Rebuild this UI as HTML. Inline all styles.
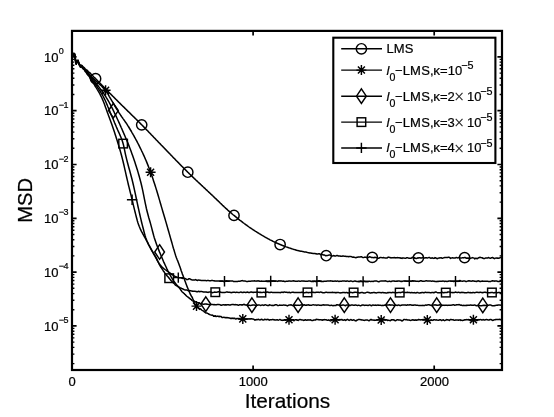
<!DOCTYPE html>
<html><head><meta charset="utf-8">
<style>
html,body{margin:0;padding:0;background:#fff;}
svg{display:block;}
text{font-family:"Liberation Sans",sans-serif;fill:#000;stroke:#000;stroke-width:0.22px;}
</style></head><body>
<svg width="554" height="417" viewBox="0 0 554 417">
<rect width="554" height="417" fill="#fff"/>

<g fill="none" stroke="#000" stroke-width="1.5" stroke-linejoin="round">
<polyline points="72.6,56.3 73.2,54.3 73.8,53.6 74.4,53.4 75.0,56.2 75.6,60.7 76.2,63.8 76.8,61.5 77.4,60.9 78.0,60.7 78.6,62.4 79.2,63.7 79.8,64.7 80.4,65.4 81.0,65.3 81.6,65.2 82.2,65.9 82.8,66.5 83.4,67.2 84.0,67.5 84.6,68.1 85.2,69.0 85.8,69.5 86.4,69.8 87.0,70.1 87.6,70.7 88.2,71.5 88.8,72.1 89.4,72.4 90.0,72.9 90.6,73.6 91.2,74.2 91.8,75.0 92.4,75.5 93.0,76.0 93.6,76.7 94.2,77.3 94.8,77.8 95.4,78.5 96.0,79.1 96.6,79.7 97.2,80.3 97.8,81.0 98.4,81.6 99.0,82.2 99.6,82.8 100.2,83.4 100.8,84.0 101.4,84.6 102.0,85.2 102.6,85.9 103.2,86.5 103.8,87.1 104.4,87.7 105.0,88.3 105.6,88.9 106.2,89.5 106.8,90.1 107.4,90.7 108.0,91.3 108.6,91.9 109.2,92.6 109.8,93.2 110.4,93.8 111.0,94.4 111.6,95.0 112.2,95.6 112.8,96.2 113.4,96.8 114.0,97.4 114.6,98.0 115.2,98.6 115.8,99.2 116.4,99.8 117.0,100.4 117.6,101.0 118.2,101.6 118.8,102.2 119.4,102.8 120.0,103.4 120.6,104.0 121.2,104.6 121.8,105.2 122.4,105.8 123.0,106.4 123.6,106.9 124.2,107.5 124.8,108.1 125.4,108.7 126.0,109.3 126.6,109.9 127.2,110.5 127.8,111.1 128.4,111.7 129.0,112.2 129.6,112.8 130.2,113.4 130.8,114.0 131.4,114.6 132.0,115.2 132.6,115.8 133.2,116.4 133.8,116.9 134.4,117.5 135.0,118.1 135.6,118.7 136.2,119.3 136.8,119.9 137.4,120.5 138.0,121.1 138.6,121.7 139.2,122.3 139.8,122.9 140.4,123.5 141.0,124.1 141.6,124.7 142.2,125.3 142.8,125.9 143.4,126.5 144.0,127.1 144.6,127.7 145.2,128.4 145.8,129.0 146.4,129.6 147.0,130.2 147.6,130.8 148.2,131.4 148.8,132.1 149.4,132.7 150.0,133.3 150.6,133.9 151.2,134.6 151.8,135.2 152.4,135.8 153.0,136.4 153.6,137.1 154.2,137.7 154.8,138.3 155.4,138.9 156.0,139.6 156.6,140.2 157.2,140.8 157.8,141.4 158.4,142.1 159.0,142.7 159.6,143.3 160.2,143.9 160.8,144.5 161.4,145.2 162.0,145.8 162.6,146.4 163.2,147.0 163.8,147.6 164.4,148.3 165.0,148.9 165.6,149.5 166.2,150.1 166.8,150.7 167.4,151.4 168.0,152.0 168.6,152.6 169.2,153.2 169.8,153.8 170.4,154.5 171.0,155.1 171.6,155.7 172.2,156.3 172.8,157.0 173.4,157.6 174.0,158.2 174.6,158.8 175.2,159.4 175.8,160.1 176.4,160.7 177.0,161.3 177.6,161.9 178.2,162.5 178.8,163.1 179.4,163.8 180.0,164.4 180.6,165.0 181.2,165.6 181.8,166.2 182.4,166.8 183.0,167.4 183.6,168.0 184.2,168.6 184.8,169.2 185.4,169.8 186.0,170.4 186.6,171.0 187.2,171.6 187.8,172.2 188.4,172.8 189.0,173.4 189.6,174.0 190.2,174.5 190.8,175.1 191.4,175.7 192.0,176.3 192.6,176.9 193.2,177.4 193.8,178.0 194.4,178.6 195.0,179.1 195.6,179.7 196.2,180.3 196.8,180.8 197.4,181.4 198.0,182.0 198.6,182.5 199.2,183.1 199.8,183.7 200.4,184.2 201.0,184.8 201.6,185.4 202.2,185.9 202.8,186.5 203.4,187.0 204.0,187.6 204.6,188.2 205.2,188.7 205.8,189.3 206.4,189.8 207.0,190.4 207.6,191.0 208.2,191.5 208.8,192.1 209.4,192.6 210.0,193.2 210.6,193.8 211.2,194.3 211.8,194.9 212.4,195.5 213.0,196.0 213.6,196.6 214.2,197.2 214.8,197.8 215.4,198.3 216.0,198.9 216.6,199.5 217.2,200.1 217.8,200.7 218.4,201.2 219.0,201.8 219.6,202.4 220.2,203.0 220.8,203.5 221.4,204.1 222.0,204.7 222.6,205.3 223.2,205.8 223.8,206.4 224.4,207.0 225.0,207.5 225.6,208.1 226.2,208.6 226.8,209.2 227.4,209.7 228.0,210.3 228.6,210.8 229.2,211.3 229.8,211.9 230.4,212.4 231.0,212.9 231.6,213.4 232.2,214.0 232.8,214.5 233.4,215.0 234.0,215.4 234.6,215.9 235.2,216.4 235.8,216.9 236.4,217.4 237.0,217.9 237.6,218.4 238.2,218.8 238.8,219.3 239.4,219.8 240.0,220.3 240.6,220.7 241.2,221.2 241.8,221.6 242.4,222.1 243.0,222.6 243.6,223.0 244.2,223.5 244.8,223.9 245.4,224.4 246.0,224.8 246.6,225.2 247.2,225.7 247.8,226.1 248.4,226.5 249.0,227.0 249.6,227.4 250.2,227.8 250.8,228.2 251.4,228.6 252.0,229.0 252.6,229.4 253.2,229.8 253.8,230.2 254.4,230.6 255.0,231.0 255.6,231.4 256.2,231.7 256.8,232.1 257.4,232.5 258.0,232.8 258.6,233.2 259.2,233.6 259.8,233.9 260.4,234.3 261.0,234.7 261.6,235.0 262.2,235.4 262.8,235.7 263.4,236.1 264.0,236.4 264.6,236.8 265.2,237.1 265.8,237.5 266.4,237.8 267.0,238.1 267.6,238.5 268.2,238.8 268.8,239.1 269.4,239.4 270.0,239.8 270.6,240.1 271.2,240.4 271.8,240.7 272.4,241.0 273.0,241.3 273.6,241.6 274.2,241.9 274.8,242.2 275.4,242.5 276.0,242.7 276.6,243.0 277.2,243.3 277.8,243.5 278.4,243.8 279.0,244.0 279.6,244.3 280.2,244.5 280.8,244.8 281.4,245.0 282.0,245.3 282.6,245.5 283.2,245.7 283.8,246.0 284.4,246.2 285.0,246.4 285.6,246.6 286.2,246.9 286.8,247.1 287.4,247.3 288.0,247.5 288.6,247.7 289.2,247.9 289.8,248.1 290.4,248.3 291.0,248.5 291.6,248.7 292.2,248.9 292.8,249.1 293.4,249.3 294.0,249.4 294.6,249.6 295.2,249.8 295.8,250.0 296.4,250.2 297.0,250.4 297.6,250.5 298.2,250.6 298.8,250.8 299.4,251.0 300.0,251.1 300.6,251.2 301.2,251.2 301.8,251.3 302.4,251.4 303.0,251.6 303.6,251.7 304.2,251.9 304.8,251.9 305.4,252.0 306.0,252.1 306.6,252.2 307.2,252.4 307.8,252.6 308.4,252.8 309.0,252.8 309.6,252.9 310.2,253.0 310.8,253.0 311.4,253.2 312.0,253.2 312.6,253.4 313.2,253.5 313.8,253.6 314.4,253.5 315.0,253.5 315.6,253.7 316.2,253.8 316.8,254.0 317.4,254.0 318.0,253.9 318.6,253.8 319.2,253.7 319.8,254.0 320.4,254.3 321.0,254.7 321.6,254.6 322.2,254.5 322.8,254.7 323.4,255.0 324.0,255.1 324.6,255.1 325.2,255.5 325.8,255.7 326.4,255.7 327.0,255.4 327.6,255.4 328.2,255.3 328.8,255.1 329.4,255.1 330.0,255.1 330.6,255.3 331.2,255.4 331.8,255.9 332.4,255.9 333.0,255.9 333.6,255.5 334.2,255.8 334.8,256.0 335.4,256.0 336.0,255.9 336.6,255.5 337.2,255.5 337.8,255.7 338.4,256.0 339.0,256.1 339.6,256.0 340.2,256.0 340.8,256.3 341.4,256.3 342.0,256.3 342.6,256.0 343.2,255.9 343.8,256.2 344.4,256.2 345.0,256.4 345.6,256.2 346.2,256.5 346.8,256.5 347.4,256.5 348.0,256.6 348.6,256.7 349.2,256.5 349.8,256.5 350.4,256.4 351.0,256.6 351.6,256.7 352.2,257.0 352.8,257.2 353.4,257.1 354.0,257.2 354.6,257.3 355.2,257.6 355.8,257.7 356.4,257.5 357.0,257.3 357.6,257.2 358.2,257.0 358.8,257.1 359.4,256.9 360.0,257.1 360.6,256.8 361.2,256.7 361.8,256.8 362.4,257.3 363.0,257.6 363.6,257.6 364.2,257.4 364.8,257.1 365.4,257.2 366.0,257.2 366.6,257.5 367.2,257.7 367.8,257.8 368.4,257.4 369.0,257.0 369.6,256.8 370.2,256.9 370.8,257.2 371.4,257.5 372.0,257.5 372.6,257.4 373.2,257.6 373.8,257.7 374.4,257.5 375.0,257.3 375.6,257.4 376.2,257.6 376.8,257.9 377.4,258.1 378.0,258.2 378.6,258.2 379.2,258.1 379.8,257.7 380.4,257.4 381.0,257.4 381.6,257.6 382.2,257.8 382.8,257.7 383.4,257.6 384.0,257.7 384.6,257.9 385.2,258.1 385.8,258.0 386.4,258.0 387.0,258.1 387.6,257.5 388.2,257.3 388.8,257.1 389.4,257.4 390.0,257.5 390.6,257.8 391.2,257.9 391.8,257.7 392.4,257.8 393.0,257.8 393.6,257.8 394.2,257.5 394.8,257.7 395.4,257.8 396.0,257.9 396.6,257.7 397.2,257.7 397.8,257.6 398.4,257.8 399.0,257.8 399.6,257.9 400.2,257.7 400.8,258.3 401.4,258.1 402.0,258.4 402.6,257.9 403.2,258.0 403.8,257.9 404.4,258.1 405.0,258.3 405.6,258.2 406.2,258.0 406.8,257.7 407.4,257.7 408.0,257.9 408.6,258.2 409.2,258.2 409.8,258.3 410.4,258.3 411.0,258.3 411.6,257.9 412.2,257.4 412.8,257.2 413.4,257.7 414.0,257.7 414.6,258.2 415.2,258.0 415.8,258.4 416.4,258.4 417.0,258.3 417.6,258.0 418.2,257.8 418.8,257.9 419.4,257.8 420.0,257.8 420.6,258.0 421.2,257.9 421.8,257.9 422.4,257.5 423.0,257.8 423.6,257.9 424.2,258.0 424.8,258.1 425.4,257.7 426.0,257.9 426.6,257.7 427.2,258.1 427.8,257.9 428.4,257.6 429.0,257.4 429.6,257.4 430.2,258.1 430.8,258.2 431.4,258.2 432.0,257.8 432.6,258.0 433.2,258.2 433.8,258.4 434.4,258.2 435.0,257.6 435.6,257.8 436.2,258.2 436.8,258.6 437.4,258.7 438.0,258.3 438.6,258.1 439.2,258.1 439.8,257.8 440.4,257.9 441.0,257.7 441.6,258.1 442.2,258.2 442.8,258.2 443.4,257.9 444.0,257.7 444.6,257.6 445.2,257.6 445.8,257.6 446.4,257.4 447.0,257.4 447.6,257.4 448.2,257.3 448.8,257.2 449.4,257.5 450.0,257.8 450.6,258.4 451.2,258.1 451.8,257.9 452.4,257.7 453.0,258.0 453.6,258.0 454.2,258.1 454.8,258.1 455.4,258.0 456.0,257.5 456.6,257.6 457.2,257.9 457.8,257.8 458.4,257.6 459.0,257.7 459.6,258.0 460.2,258.0 460.8,258.1 461.4,258.1 462.0,257.9 462.6,257.7 463.2,257.7 463.8,257.9 464.4,257.6 465.0,257.5 465.6,257.7 466.2,258.3 466.8,258.0 467.4,258.3 468.0,257.9 468.6,258.4 469.2,258.2 469.8,258.5 470.4,258.4 471.0,258.0 471.6,257.9 472.2,257.8 472.8,257.6 473.4,257.9 474.0,258.1 474.6,258.9 475.2,258.2 475.8,258.4 476.4,258.3 477.0,258.7 477.6,258.5 478.2,258.0 478.8,257.8 479.4,257.4 480.0,257.3 480.6,257.4 481.2,257.6 481.8,257.8 482.4,257.8 483.0,258.3 483.6,258.5 484.2,258.5 484.8,258.4 485.4,258.1 486.0,258.0 486.6,258.0 487.2,257.9 487.8,257.9 488.4,257.5 489.0,257.8 489.6,258.1 490.2,258.2 490.8,258.2 491.4,257.8 492.0,257.7 492.6,257.5 493.2,257.8 493.8,258.4 494.4,258.7 495.0,258.3 495.6,258.1 496.2,257.9 496.8,258.2 497.4,258.1 498.0,258.2 498.6,258.2 499.2,258.0 499.8,257.9 500.4,257.6 501.0,257.6 501.6,257.4"/>
<polyline points="72.6,55.0 73.2,53.3 73.8,53.9 74.4,53.8 75.0,56.1 75.6,61.0 76.2,63.9 76.8,62.3 77.4,62.1 78.0,61.5 78.6,63.5 79.2,64.9 79.8,65.2 80.4,65.6 81.0,65.8 81.6,65.6 82.2,66.3 82.8,67.9 83.4,68.7 84.0,68.4 84.6,68.9 85.2,69.8 85.8,70.3 86.4,70.7 87.0,71.3 87.6,71.9 88.2,72.6 88.8,73.4 89.4,74.5 90.0,75.3 90.6,75.9 91.2,76.5 91.8,77.0 92.4,77.5 93.0,78.1 93.6,78.7 94.2,79.3 94.8,80.1 95.4,80.7 96.0,81.2 96.6,81.7 97.2,82.2 97.8,82.7 98.4,83.2 99.0,83.8 99.6,84.3 100.2,84.8 100.8,85.3 101.4,85.9 102.0,86.4 102.6,87.0 103.2,87.6 103.8,88.3 104.4,88.9 105.0,89.6 105.6,90.3 106.2,91.1 106.8,92.0 107.4,93.0 108.0,94.1 108.6,95.2 109.2,96.3 109.8,97.3 110.4,98.3 111.0,99.3 111.6,100.4 112.2,101.4 112.8,102.4 113.4,103.4 114.0,104.4 114.6,105.5 115.2,106.5 115.8,107.5 116.4,108.5 117.0,109.5 117.6,110.4 118.2,111.4 118.8,112.4 119.4,113.3 120.0,114.2 120.6,115.1 121.2,116.0 121.8,116.9 122.4,117.7 123.0,118.6 123.6,119.4 124.2,120.3 124.8,121.1 125.4,122.0 126.0,122.8 126.6,123.7 127.2,124.6 127.8,125.6 128.4,126.5 129.0,127.5 129.6,128.5 130.2,129.5 130.8,130.5 131.4,131.5 132.0,132.6 132.6,133.6 133.2,134.7 133.8,135.7 134.4,136.8 135.0,137.9 135.6,139.0 136.2,140.1 136.8,141.2 137.4,142.4 138.0,143.5 138.6,144.7 139.2,145.9 139.8,147.1 140.4,148.3 141.0,149.5 141.6,150.8 142.2,152.0 142.8,153.3 143.4,154.6 144.0,155.9 144.6,157.2 145.2,158.6 145.8,160.0 146.4,161.4 147.0,162.9 147.6,164.4 148.2,165.9 148.8,167.5 149.4,169.0 150.0,170.6 150.6,172.2 151.2,173.9 151.8,175.6 152.4,177.3 153.0,179.1 153.6,180.9 154.2,182.7 154.8,184.6 155.4,186.4 156.0,188.4 156.6,190.3 157.2,192.3 157.8,194.3 158.4,196.3 159.0,198.4 159.6,200.4 160.2,202.5 160.8,204.5 161.4,206.6 162.0,208.6 162.6,210.7 163.2,212.7 163.8,214.7 164.4,216.8 165.0,218.8 165.6,220.9 166.2,222.9 166.8,225.0 167.4,227.1 168.0,229.2 168.6,231.3 169.2,233.4 169.8,235.5 170.4,237.6 171.0,239.7 171.6,241.8 172.2,243.9 172.8,246.1 173.4,248.2 174.0,250.1 174.6,252.1 175.2,254.1 175.8,256.0 176.4,257.7 177.0,259.2 177.6,260.6 178.2,262.2 178.8,263.7 179.4,265.4 180.0,267.1 180.6,268.8 181.2,270.8 181.8,272.3 182.4,274.1 183.0,275.5 183.6,277.3 184.2,278.8 184.8,280.5 185.4,282.1 186.0,283.7 186.6,285.2 187.2,286.9 187.8,288.3 188.4,289.8 189.0,291.1 189.6,292.5 190.2,294.0 190.8,295.0 191.4,296.2 192.0,296.9 192.6,298.4 193.2,299.8 193.8,301.8 194.4,303.1 195.0,304.6 195.6,305.2 196.2,305.9 196.8,306.4 197.4,307.0 198.0,307.7 198.6,308.2 199.2,308.5 199.8,308.6 200.4,308.9 201.0,309.3 201.6,310.0 202.2,310.4 202.8,310.7 203.4,310.9 204.0,311.5 204.6,312.1 205.2,312.5 205.8,313.0 206.4,312.9 207.0,313.0 207.6,313.4 208.2,313.7 208.8,314.2 209.4,314.3 210.0,314.7 210.6,314.9 211.2,315.1 211.8,315.2 212.4,315.1 213.0,315.4 213.6,316.2 214.2,316.1 214.8,316.2 215.4,315.7 216.0,316.4 216.6,316.4 217.2,316.1 217.8,316.3 218.4,316.2 219.0,316.8 219.6,316.3 220.2,316.4 220.8,316.4 221.4,316.9 222.0,317.4 222.6,317.4 223.2,317.4 223.8,317.2 224.4,317.5 225.0,317.5 225.6,317.7 226.2,317.6 226.8,317.7 227.4,317.6 228.0,317.8 228.6,317.8 229.2,318.1 229.8,318.1 230.4,318.5 231.0,318.2 231.6,318.6 232.2,318.1 232.8,318.5 233.4,318.3 234.0,318.5 234.6,318.2 235.2,318.7 235.8,319.1 236.4,318.9 237.0,318.4 237.6,318.6 238.2,318.6 238.8,318.7 239.4,318.4 240.0,319.2 240.6,319.2 241.2,319.5 241.8,319.0 242.4,318.9 243.0,318.9 243.6,319.2 244.2,319.0 244.8,318.9 245.4,319.0 246.0,319.2 246.6,319.1 247.2,319.1 247.8,319.1 248.4,319.0 249.0,318.8 249.6,318.9 250.2,318.8 250.8,318.9 251.4,318.7 252.0,319.0 252.6,319.0 253.2,319.1 253.8,319.3 254.4,319.7 255.0,320.2 255.6,319.8 256.2,319.7 256.8,319.5 257.4,319.7 258.0,319.4 258.6,319.3 259.2,319.7 259.8,319.9 260.4,319.8 261.0,319.4 261.6,319.3 262.2,319.5 262.8,320.0 263.4,319.9 264.0,319.8 264.6,319.3 265.2,319.4 265.8,319.5 266.4,319.7 267.0,319.6 267.6,319.3 268.2,319.5 268.8,319.8 269.4,320.2 270.0,319.8 270.6,319.7 271.2,319.7 271.8,319.7 272.4,319.6 273.0,319.5 273.6,319.8 274.2,319.8 274.8,320.0 275.4,320.0 276.0,320.1 276.6,319.8 277.2,319.7 277.8,320.0 278.4,320.2 279.0,319.9 279.6,319.5 280.2,319.6 280.8,319.9 281.4,320.3 282.0,320.1 282.6,320.4 283.2,320.1 283.8,320.2 284.4,319.8 285.0,320.2 285.6,320.2 286.2,320.1 286.8,320.0 287.4,319.7 288.0,319.9 288.6,319.9 289.2,319.7 289.8,319.6 290.4,319.7 291.0,320.1 291.6,320.2 292.2,319.7 292.8,320.0 293.4,320.4 294.0,320.8 294.6,320.1 295.2,319.7 295.8,319.7 296.4,319.7 297.0,320.2 297.6,320.1 298.2,320.4 298.8,319.9 299.4,319.7 300.0,319.4 300.6,319.7 301.2,319.8 301.8,319.9 302.4,319.9 303.0,320.0 303.6,320.4 304.2,320.3 304.8,320.0 305.4,319.7 306.0,320.1 306.6,320.2 307.2,320.2 307.8,319.8 308.4,320.0 309.0,320.0 309.6,319.9 310.2,319.8 310.8,320.0 311.4,320.3 312.0,320.6 312.6,320.6 313.2,320.3 313.8,320.0 314.4,320.0 315.0,319.9 315.6,319.9 316.2,319.3 316.8,319.5 317.4,319.4 318.0,319.5 318.6,319.7 319.2,319.7 319.8,319.9 320.4,319.7 321.0,319.7 321.6,320.1 322.2,320.0 322.8,320.2 323.4,319.7 324.0,319.7 324.6,319.6 325.2,319.8 325.8,319.7 326.4,319.8 327.0,320.2 327.6,320.3 328.2,320.2 328.8,319.8 329.4,320.4 330.0,320.7 330.6,320.9 331.2,320.6 331.8,320.1 332.4,319.9 333.0,319.8 333.6,320.0 334.2,319.9 334.8,319.7 335.4,319.8 336.0,320.0 336.6,319.7 337.2,319.6 337.8,319.8 338.4,320.1 339.0,320.2 339.6,319.6 340.2,319.9 340.8,319.6 341.4,319.7 342.0,319.4 342.6,320.1 343.2,320.3 343.8,320.1 344.4,319.7 345.0,319.9 345.6,320.5 346.2,320.1 346.8,319.7 347.4,319.3 348.0,319.7 348.6,320.1 349.2,320.4 349.8,320.0 350.4,319.7 351.0,319.5 351.6,320.0 352.2,320.2 352.8,320.2 353.4,319.8 354.0,319.9 354.6,320.1 355.2,320.9 355.8,320.7 356.4,320.8 357.0,320.0 357.6,320.0 358.2,319.5 358.8,319.6 359.4,319.6 360.0,319.6 360.6,319.7 361.2,319.8 361.8,320.0 362.4,320.0 363.0,320.1 363.6,320.3 364.2,320.3 364.8,320.4 365.4,320.1 366.0,320.0 366.6,320.1 367.2,319.9 367.8,320.2 368.4,320.4 369.0,320.8 369.6,320.4 370.2,319.8 370.8,319.5 371.4,319.6 372.0,320.1 372.6,320.1 373.2,320.1 373.8,320.2 374.4,320.1 375.0,320.4 375.6,320.2 376.2,320.1 376.8,320.0 377.4,319.7 378.0,319.7 378.6,319.3 379.2,319.1 379.8,319.4 380.4,319.7 381.0,320.0 381.6,319.7 382.2,319.8 382.8,319.6 383.4,319.5 384.0,319.3 384.6,319.4 385.2,319.8 385.8,319.9 386.4,319.8 387.0,319.9 387.6,320.5 388.2,320.3 388.8,320.3 389.4,320.4 390.0,320.6 390.6,320.7 391.2,319.8 391.8,320.0 392.4,319.7 393.0,319.9 393.6,319.8 394.2,320.0 394.8,320.6 395.4,320.7 396.0,320.5 396.6,320.1 397.2,319.7 397.8,319.7 398.4,320.0 399.0,320.0 399.6,320.0 400.2,320.1 400.8,320.2 401.4,320.7 402.0,321.0 402.6,320.7 403.2,320.1 403.8,319.4 404.4,319.4 405.0,319.6 405.6,319.7 406.2,319.7 406.8,319.5 407.4,319.9 408.0,320.0 408.6,320.0 409.2,320.0 409.8,320.2 410.4,320.4 411.0,320.4 411.6,320.1 412.2,320.0 412.8,319.7 413.4,320.1 414.0,320.2 414.6,320.1 415.2,320.2 415.8,319.8 416.4,320.3 417.0,320.0 417.6,320.1 418.2,319.6 418.8,319.5 419.4,319.7 420.0,319.8 420.6,319.9 421.2,319.7 421.8,319.8 422.4,319.7 423.0,319.6 423.6,319.7 424.2,319.4 424.8,319.3 425.4,319.1 426.0,319.3 426.6,320.0 427.2,320.0 427.8,320.4 428.4,320.5 429.0,320.8 429.6,320.8 430.2,320.5 430.8,320.2 431.4,320.1 432.0,320.2 432.6,320.4 433.2,320.2 433.8,319.7 434.4,319.7 435.0,319.9 435.6,319.9 436.2,319.8 436.8,319.9 437.4,320.1 438.0,320.3 438.6,320.3 439.2,320.0 439.8,319.8 440.4,319.7 441.0,320.2 441.6,320.6 442.2,320.1 442.8,319.9 443.4,319.7 444.0,320.4 444.6,320.7 445.2,320.4 445.8,320.1 446.4,319.5 447.0,319.9 447.6,319.7 448.2,320.1 448.8,320.1 449.4,320.5 450.0,319.8 450.6,319.5 451.2,319.6 451.8,319.7 452.4,319.8 453.0,319.6 453.6,320.1 454.2,320.2 454.8,320.3 455.4,320.0 456.0,319.9 456.6,319.9 457.2,320.1 457.8,320.1 458.4,320.3 459.0,319.8 459.6,320.1 460.2,319.8 460.8,320.4 461.4,320.2 462.0,320.4 462.6,320.5 463.2,320.3 463.8,320.2 464.4,319.8 465.0,320.0 465.6,319.7 466.2,319.7 466.8,319.6 467.4,319.7 468.0,319.7 468.6,319.5 469.2,319.9 469.8,320.0 470.4,320.7 471.0,320.3 471.6,319.9 472.2,319.6 472.8,319.5 473.4,319.7 474.0,319.5 474.6,319.8 475.2,319.8 475.8,320.0 476.4,320.4 477.0,320.5 477.6,320.2 478.2,320.0 478.8,319.6 479.4,319.9 480.0,319.5 480.6,319.6 481.2,319.8 481.8,320.0 482.4,320.0 483.0,319.6 483.6,319.7 484.2,320.1 484.8,320.0 485.4,319.8 486.0,319.6 486.6,319.5 487.2,319.7 487.8,319.8 488.4,320.1 489.0,320.1 489.6,319.7 490.2,319.5 490.8,319.5 491.4,319.7 492.0,320.1 492.6,320.5 493.2,320.3 493.8,319.9 494.4,319.8 495.0,319.6 495.6,319.7 496.2,319.4 496.8,319.6 497.4,319.5 498.0,319.6 498.6,319.5 499.2,319.5 499.8,319.3 500.4,319.7 501.0,319.6 501.6,319.9"/>
<polyline points="72.6,56.4 73.2,54.6 73.8,53.9 74.4,53.8 75.0,56.6 75.6,61.0 76.2,64.2 76.8,61.6 77.4,60.4 78.0,60.1 78.6,62.0 79.2,64.2 79.8,65.6 80.4,65.7 81.0,65.9 81.6,66.2 82.2,66.6 82.8,67.3 83.4,68.2 84.0,69.0 84.6,69.5 85.2,70.3 85.8,71.2 86.4,71.5 87.0,72.1 87.6,72.8 88.2,73.4 88.8,74.2 89.4,74.9 90.0,75.7 90.6,76.6 91.2,77.3 91.8,78.0 92.4,78.7 93.0,79.4 93.6,80.1 94.2,80.9 94.8,81.7 95.4,82.4 96.0,83.3 96.6,84.1 97.2,84.7 97.8,85.6 98.4,86.3 99.0,87.1 99.6,87.9 100.2,88.7 100.8,89.5 101.4,90.4 102.0,91.2 102.6,92.0 103.2,92.9 103.8,93.7 104.4,94.6 105.0,95.5 105.6,96.4 106.2,97.4 106.8,98.3 107.4,99.3 108.0,100.3 108.6,101.4 109.2,102.5 109.8,103.6 110.4,104.7 111.0,105.9 111.6,107.1 112.2,108.2 112.8,109.4 113.4,110.6 114.0,111.8 114.6,113.1 115.2,114.3 115.8,115.6 116.4,116.9 117.0,118.2 117.6,119.5 118.2,120.8 118.8,122.1 119.4,123.4 120.0,124.7 120.6,126.1 121.2,127.5 121.8,128.8 122.4,130.2 123.0,131.6 123.6,133.0 124.2,134.4 124.8,135.8 125.4,137.2 126.0,138.6 126.6,140.0 127.2,141.5 127.8,142.9 128.4,144.4 129.0,145.9 129.6,147.5 130.2,149.0 130.8,150.6 131.4,152.2 132.0,153.9 132.6,155.6 133.2,157.3 133.8,159.0 134.4,160.8 135.0,162.6 135.6,164.4 136.2,166.3 136.8,168.2 137.4,170.1 138.0,172.1 138.6,174.2 139.2,176.3 139.8,178.5 140.4,180.7 141.0,183.0 141.6,185.5 142.2,188.1 142.8,190.9 143.4,193.9 144.0,196.9 144.6,199.9 145.2,202.9 145.8,205.7 146.4,208.5 147.0,211.0 147.6,213.3 148.2,215.5 148.8,217.7 149.4,219.7 150.0,221.8 150.6,223.9 151.2,226.1 151.8,228.4 152.4,230.7 153.0,233.0 153.6,235.3 154.2,237.4 154.8,239.3 155.4,241.1 156.0,242.8 156.6,244.5 157.2,246.1 157.8,247.6 158.4,249.1 159.0,250.6 159.6,252.1 160.2,253.5 160.8,255.0 161.4,256.5 162.0,257.9 162.6,259.3 163.2,260.7 163.8,262.1 164.4,263.4 165.0,264.7 165.6,266.0 166.2,267.3 166.8,268.6 167.4,269.8 168.0,271.0 168.6,272.1 169.2,273.2 169.8,274.5 170.4,275.6 171.0,276.7 171.6,277.7 172.2,278.7 172.8,279.6 173.4,280.6 174.0,281.4 174.6,282.2 175.2,283.0 175.8,283.8 176.4,284.5 177.0,285.3 177.6,285.9 178.2,286.6 178.8,287.3 179.4,288.0 180.0,288.8 180.6,289.7 181.2,290.5 181.8,291.4 182.4,292.1 183.0,292.5 183.6,293.1 184.2,293.5 184.8,294.3 185.4,294.7 186.0,295.4 186.6,296.1 187.2,296.5 187.8,297.0 188.4,297.3 189.0,297.8 189.6,298.3 190.2,298.8 190.8,299.4 191.4,299.7 192.0,300.5 192.6,300.9 193.2,301.1 193.8,301.0 194.4,301.2 195.0,301.6 195.6,302.0 196.2,302.2 196.8,302.5 197.4,302.7 198.0,302.8 198.6,302.8 199.2,303.0 199.8,303.4 200.4,303.8 201.0,303.9 201.6,303.8 202.2,303.8 202.8,304.2 203.4,304.2 204.0,304.2 204.6,304.1 205.2,304.1 205.8,304.1 206.4,304.0 207.0,304.2 207.6,304.2 208.2,304.4 208.8,304.6 209.4,304.6 210.0,304.5 210.6,304.7 211.2,304.6 211.8,304.6 212.4,304.4 213.0,304.6 213.6,304.7 214.2,304.6 214.8,304.7 215.4,304.8 216.0,304.8 216.6,304.7 217.2,304.6 217.8,304.5 218.4,304.5 219.0,304.4 219.6,304.6 220.2,304.8 220.8,305.2 221.4,305.3 222.0,305.0 222.6,304.9 223.2,304.7 223.8,304.8 224.4,304.9 225.0,304.8 225.6,305.0 226.2,304.8 226.8,304.9 227.4,304.7 228.0,304.7 228.6,304.7 229.2,305.0 229.8,305.1 230.4,305.0 231.0,304.8 231.6,304.6 232.2,304.6 232.8,304.5 233.4,304.6 234.0,304.7 234.6,304.7 235.2,304.6 235.8,304.7 236.4,304.8 237.0,304.7 237.6,304.9 238.2,305.3 238.8,305.2 239.4,304.8 240.0,304.7 240.6,304.7 241.2,304.9 241.8,304.8 242.4,305.0 243.0,304.7 243.6,304.5 244.2,304.3 244.8,304.8 245.4,305.0 246.0,305.0 246.6,304.9 247.2,305.1 247.8,305.3 248.4,305.2 249.0,305.1 249.6,305.3 250.2,305.4 250.8,305.4 251.4,305.3 252.0,305.2 252.6,305.0 253.2,305.0 253.8,305.0 254.4,305.1 255.0,305.2 255.6,305.4 256.2,305.5 256.8,305.2 257.4,305.2 258.0,305.0 258.6,305.1 259.2,304.9 259.8,305.1 260.4,305.4 261.0,305.4 261.6,305.1 262.2,304.9 262.8,305.0 263.4,305.4 264.0,305.2 264.6,305.0 265.2,304.7 265.8,304.9 266.4,305.2 267.0,305.3 267.6,305.6 268.2,305.5 268.8,305.4 269.4,304.8 270.0,304.9 270.6,305.1 271.2,305.3 271.8,305.4 272.4,305.3 273.0,305.6 273.6,305.5 274.2,305.3 274.8,305.0 275.4,304.8 276.0,304.7 276.6,304.8 277.2,305.1 277.8,305.6 278.4,305.6 279.0,305.4 279.6,305.0 280.2,305.2 280.8,305.2 281.4,305.3 282.0,305.3 282.6,305.3 283.2,305.1 283.8,305.1 284.4,305.1 285.0,305.3 285.6,305.1 286.2,305.3 286.8,305.6 287.4,305.9 288.0,305.5 288.6,305.2 289.2,305.1 289.8,305.1 290.4,305.1 291.0,304.7 291.6,305.1 292.2,305.4 292.8,305.7 293.4,305.4 294.0,305.2 294.6,305.1 295.2,305.2 295.8,305.1 296.4,305.4 297.0,305.2 297.6,305.2 298.2,305.2 298.8,305.2 299.4,305.4 300.0,305.2 300.6,304.9 301.2,304.9 301.8,304.8 302.4,305.2 303.0,304.9 303.6,304.9 304.2,304.8 304.8,305.0 305.4,305.3 306.0,305.1 306.6,305.2 307.2,305.0 307.8,305.1 308.4,304.8 309.0,305.0 309.6,305.2 310.2,305.2 310.8,305.3 311.4,305.3 312.0,305.1 312.6,304.9 313.2,304.7 313.8,304.9 314.4,305.1 315.0,304.9 315.6,305.1 316.2,305.1 316.8,305.4 317.4,305.1 318.0,305.0 318.6,304.9 319.2,305.2 319.8,305.2 320.4,305.4 321.0,305.2 321.6,305.4 322.2,305.0 322.8,304.9 323.4,304.8 324.0,304.9 324.6,305.2 325.2,304.9 325.8,305.1 326.4,304.9 327.0,305.0 327.6,305.0 328.2,305.1 328.8,305.2 329.4,305.4 330.0,305.4 330.6,305.4 331.2,305.2 331.8,305.3 332.4,305.6 333.0,305.7 333.6,305.5 334.2,305.5 334.8,305.4 335.4,305.5 336.0,305.4 336.6,304.8 337.2,304.7 337.8,305.0 338.4,305.1 339.0,305.1 339.6,304.9 340.2,305.2 340.8,305.5 341.4,305.3 342.0,305.2 342.6,305.1 343.2,305.1 343.8,305.1 344.4,305.3 345.0,305.6 345.6,305.7 346.2,305.1 346.8,304.9 347.4,304.9 348.0,305.2 348.6,305.2 349.2,305.6 349.8,305.6 350.4,305.5 351.0,305.1 351.6,305.1 352.2,305.1 352.8,305.1 353.4,305.3 354.0,305.3 354.6,305.2 355.2,305.0 355.8,305.1 356.4,305.2 357.0,305.4 357.6,305.4 358.2,305.3 358.8,305.2 359.4,305.4 360.0,305.7 360.6,305.7 361.2,305.5 361.8,305.2 362.4,305.0 363.0,305.0 363.6,305.1 364.2,305.4 364.8,305.3 365.4,305.3 366.0,305.2 366.6,305.2 367.2,305.3 367.8,305.4 368.4,305.4 369.0,305.1 369.6,305.0 370.2,305.0 370.8,305.5 371.4,305.7 372.0,305.5 372.6,305.0 373.2,305.1 373.8,305.2 374.4,305.2 375.0,305.2 375.6,305.1 376.2,305.4 376.8,305.2 377.4,305.2 378.0,304.9 378.6,305.3 379.2,305.2 379.8,305.3 380.4,305.2 381.0,305.4 381.6,305.5 382.2,305.6 382.8,305.3 383.4,305.4 384.0,305.3 384.6,305.1 385.2,305.2 385.8,305.0 386.4,305.3 387.0,305.0 387.6,305.1 388.2,304.9 388.8,305.0 389.4,304.8 390.0,304.8 390.6,305.2 391.2,305.1 391.8,305.1 392.4,304.9 393.0,305.1 393.6,305.3 394.2,305.4 394.8,305.4 395.4,305.2 396.0,305.1 396.6,305.3 397.2,305.4 397.8,305.3 398.4,304.9 399.0,305.1 399.6,305.3 400.2,305.7 400.8,305.4 401.4,305.2 402.0,305.0 402.6,304.9 403.2,305.0 403.8,305.0 404.4,304.9 405.0,304.9 405.6,305.0 406.2,305.2 406.8,305.2 407.4,304.8 408.0,304.9 408.6,304.9 409.2,305.0 409.8,304.8 410.4,304.8 411.0,304.9 411.6,305.2 412.2,305.1 412.8,305.3 413.4,305.2 414.0,305.0 414.6,304.9 415.2,304.9 415.8,305.2 416.4,305.2 417.0,305.2 417.6,305.2 418.2,305.4 418.8,305.6 419.4,305.6 420.0,305.5 420.6,305.5 421.2,305.5 421.8,305.5 422.4,305.4 423.0,305.3 423.6,305.6 424.2,305.6 424.8,305.5 425.4,305.1 426.0,305.1 426.6,305.2 427.2,305.1 427.8,304.8 428.4,304.8 429.0,304.7 429.6,305.1 430.2,305.0 430.8,305.4 431.4,305.6 432.0,305.6 432.6,305.4 433.2,305.0 433.8,304.9 434.4,304.9 435.0,304.8 435.6,304.9 436.2,304.9 436.8,305.3 437.4,305.2 438.0,305.3 438.6,305.1 439.2,305.0 439.8,304.8 440.4,304.9 441.0,305.2 441.6,305.5 442.2,305.5 442.8,305.1 443.4,305.3 444.0,305.2 444.6,305.4 445.2,305.2 445.8,305.2 446.4,305.2 447.0,305.2 447.6,305.4 448.2,305.3 448.8,305.3 449.4,305.2 450.0,305.2 450.6,305.2 451.2,305.2 451.8,305.1 452.4,304.9 453.0,304.8 453.6,304.8 454.2,305.0 454.8,305.3 455.4,305.1 456.0,305.1 456.6,304.7 457.2,304.8 457.8,304.7 458.4,304.7 459.0,304.6 459.6,304.7 460.2,305.0 460.8,305.2 461.4,305.1 462.0,305.4 462.6,305.4 463.2,305.4 463.8,305.3 464.4,305.4 465.0,305.5 465.6,305.4 466.2,305.3 466.8,305.5 467.4,305.3 468.0,305.2 468.6,305.2 469.2,305.2 469.8,305.2 470.4,305.0 471.0,305.1 471.6,305.2 472.2,305.3 472.8,305.2 473.4,305.3 474.0,305.1 474.6,305.1 475.2,305.2 475.8,305.5 476.4,305.7 477.0,305.6 477.6,305.6 478.2,305.6 478.8,305.5 479.4,305.6 480.0,305.6 480.6,305.8 481.2,305.8 481.8,305.7 482.4,305.5 483.0,305.4 483.6,305.3 484.2,305.5 484.8,305.3 485.4,305.5 486.0,305.5 486.6,305.4 487.2,305.2 487.8,305.3 488.4,305.3 489.0,305.1 489.6,305.0 490.2,305.0 490.8,305.1 491.4,305.3 492.0,305.7 492.6,305.8 493.2,305.8 493.8,305.7 494.4,305.7 495.0,305.5 495.6,305.4 496.2,305.3 496.8,305.3 497.4,305.2 498.0,305.0 498.6,305.0 499.2,304.9 499.8,305.1 500.4,305.1 501.0,305.3 501.6,305.3"/>
<polyline points="72.6,56.3 73.2,54.3 73.8,54.1 74.4,53.6 75.0,55.9 75.6,60.8 76.2,63.4 76.8,61.1 77.4,61.3 78.0,60.6 78.6,63.0 79.2,64.4 79.8,65.3 80.4,66.7 81.0,66.8 81.6,66.6 82.2,67.4 82.8,68.1 83.4,68.9 84.0,69.1 84.6,69.6 85.2,70.9 85.8,71.2 86.4,71.6 87.0,72.7 87.6,73.4 88.2,74.3 88.8,75.3 89.4,75.7 90.0,76.5 90.6,77.5 91.2,78.3 91.8,79.2 92.4,80.1 93.0,81.0 93.6,81.8 94.2,82.6 94.8,83.5 95.4,84.4 96.0,85.2 96.6,86.0 97.2,86.8 97.8,87.8 98.4,88.7 99.0,89.6 99.6,90.5 100.2,91.4 100.8,92.4 101.4,93.4 102.0,94.4 102.6,95.4 103.2,96.5 103.8,97.6 104.4,98.8 105.0,100.0 105.6,101.3 106.2,102.7 106.8,104.1 107.4,105.5 108.0,107.0 108.6,108.4 109.2,109.9 109.8,111.3 110.4,112.8 111.0,114.2 111.6,115.6 112.2,117.0 112.8,118.4 113.4,119.8 114.0,121.2 114.6,122.7 115.2,124.1 115.8,125.5 116.4,127.0 117.0,128.4 117.6,129.8 118.2,131.1 118.8,132.4 119.4,133.7 120.0,135.1 120.6,136.5 121.2,138.0 121.8,139.6 122.4,141.3 123.0,143.2 123.6,145.4 124.2,148.2 124.8,151.2 125.4,154.1 126.0,156.7 126.6,159.1 127.2,161.5 127.8,163.7 128.4,166.0 129.0,168.2 129.6,170.3 130.2,172.5 130.8,174.8 131.4,177.0 132.0,179.3 132.6,181.8 133.2,184.3 133.8,186.9 134.4,189.6 135.0,192.4 135.6,195.2 136.2,198.0 136.8,200.9 137.4,203.7 138.0,206.5 138.6,209.2 139.2,211.9 139.8,214.5 140.4,217.1 141.0,219.7 141.6,222.2 142.2,224.6 142.8,227.0 143.4,229.3 144.0,231.7 144.6,233.9 145.2,236.0 145.8,237.9 146.4,239.5 147.0,241.0 147.6,242.3 148.2,243.6 148.8,244.8 149.4,245.9 150.0,247.1 150.6,248.2 151.2,249.3 151.8,250.3 152.4,251.4 153.0,252.4 153.6,253.3 154.2,254.3 154.8,255.4 155.4,256.4 156.0,257.5 156.6,258.7 157.2,259.9 157.8,261.2 158.4,262.5 159.0,263.8 159.6,264.9 160.2,266.0 160.8,267.0 161.4,267.9 162.0,268.8 162.6,269.7 163.2,270.7 163.8,271.5 164.4,272.3 165.0,273.2 165.6,274.0 166.2,274.8 166.8,275.5 167.4,276.2 168.0,276.8 168.6,277.6 169.2,278.2 169.8,279.0 170.4,279.7 171.0,280.5 171.6,281.1 172.2,281.8 172.8,282.5 173.4,283.0 174.0,283.5 174.6,284.0 175.2,284.8 175.8,285.3 176.4,285.7 177.0,286.0 177.6,286.4 178.2,286.8 178.8,287.1 179.4,287.3 180.0,287.7 180.6,288.0 181.2,288.2 181.8,288.5 182.4,288.7 183.0,289.1 183.6,289.3 184.2,289.7 184.8,289.9 185.4,289.9 186.0,290.0 186.6,289.9 187.2,290.2 187.8,290.4 188.4,290.8 189.0,290.7 189.6,290.5 190.2,290.7 190.8,290.8 191.4,291.1 192.0,291.0 192.6,291.2 193.2,291.3 193.8,291.2 194.4,291.3 195.0,291.2 195.6,291.4 196.2,291.5 196.8,291.7 197.4,291.8 198.0,291.4 198.6,291.3 199.2,291.5 199.8,291.7 200.4,291.6 201.0,291.5 201.6,291.4 202.2,291.6 202.8,291.8 203.4,292.1 204.0,292.0 204.6,292.0 205.2,291.9 205.8,292.0 206.4,292.0 207.0,292.2 207.6,292.3 208.2,292.4 208.8,292.1 209.4,292.1 210.0,291.9 210.6,291.9 211.2,292.1 211.8,292.5 212.4,292.7 213.0,292.6 213.6,292.4 214.2,292.2 214.8,292.1 215.4,292.2 216.0,292.2 216.6,292.3 217.2,292.1 217.8,292.0 218.4,291.8 219.0,291.7 219.6,291.7 220.2,292.0 220.8,292.2 221.4,292.4 222.0,292.4 222.6,292.5 223.2,292.4 223.8,292.5 224.4,292.4 225.0,292.4 225.6,292.3 226.2,292.1 226.8,292.0 227.4,292.0 228.0,292.2 228.6,292.3 229.2,292.3 229.8,292.3 230.4,292.5 231.0,292.6 231.6,292.7 232.2,292.4 232.8,292.3 233.4,292.2 234.0,292.2 234.6,292.2 235.2,292.4 235.8,292.4 236.4,292.3 237.0,292.2 237.6,292.4 238.2,292.6 238.8,292.6 239.4,292.4 240.0,292.3 240.6,292.1 241.2,292.1 241.8,292.4 242.4,292.4 243.0,292.6 243.6,292.2 244.2,292.3 244.8,292.3 245.4,292.4 246.0,292.5 246.6,292.2 247.2,292.2 247.8,292.0 248.4,292.5 249.0,292.5 249.6,292.6 250.2,292.2 250.8,292.1 251.4,292.0 252.0,292.2 252.6,292.3 253.2,292.5 253.8,292.3 254.4,292.3 255.0,292.3 255.6,292.3 256.2,292.2 256.8,292.1 257.4,292.0 258.0,292.2 258.6,292.3 259.2,292.3 259.8,292.5 260.4,292.3 261.0,292.5 261.6,292.6 262.2,292.6 262.8,292.4 263.4,292.2 264.0,292.3 264.6,292.4 265.2,292.3 265.8,292.4 266.4,292.1 267.0,292.2 267.6,291.9 268.2,292.3 268.8,292.4 269.4,292.6 270.0,292.3 270.6,292.4 271.2,292.2 271.8,292.3 272.4,292.4 273.0,292.6 273.6,292.6 274.2,292.4 274.8,292.4 275.4,292.4 276.0,292.4 276.6,292.5 277.2,292.6 277.8,292.4 278.4,292.4 279.0,292.4 279.6,292.6 280.2,292.7 280.8,292.6 281.4,292.2 282.0,292.2 282.6,292.3 283.2,292.5 283.8,292.2 284.4,291.9 285.0,292.2 285.6,292.3 286.2,292.3 286.8,292.3 287.4,292.5 288.0,292.6 288.6,292.5 289.2,292.3 289.8,292.5 290.4,292.7 291.0,292.7 291.6,292.4 292.2,292.2 292.8,292.2 293.4,292.3 294.0,292.5 294.6,292.5 295.2,292.6 295.8,292.6 296.4,292.6 297.0,292.5 297.6,292.4 298.2,292.6 298.8,292.5 299.4,292.5 300.0,292.4 300.6,292.5 301.2,292.5 301.8,292.2 302.4,292.3 303.0,292.5 303.6,292.8 304.2,292.7 304.8,292.7 305.4,292.5 306.0,292.5 306.6,292.3 307.2,292.4 307.8,292.5 308.4,292.7 309.0,292.6 309.6,292.6 310.2,292.4 310.8,292.4 311.4,292.3 312.0,292.2 312.6,292.3 313.2,292.3 313.8,292.5 314.4,292.5 315.0,292.5 315.6,292.5 316.2,292.3 316.8,292.3 317.4,292.2 318.0,292.3 318.6,292.3 319.2,292.4 319.8,292.3 320.4,292.1 321.0,292.1 321.6,292.3 322.2,292.5 322.8,292.7 323.4,292.8 324.0,292.8 324.6,292.7 325.2,292.4 325.8,292.3 326.4,292.2 327.0,292.4 327.6,292.5 328.2,292.5 328.8,292.5 329.4,292.5 330.0,292.6 330.6,292.6 331.2,292.6 331.8,292.5 332.4,292.3 333.0,292.4 333.6,292.5 334.2,292.6 334.8,292.5 335.4,292.7 336.0,292.6 336.6,292.7 337.2,292.4 337.8,292.4 338.4,292.4 339.0,292.6 339.6,292.8 340.2,292.9 340.8,292.8 341.4,292.7 342.0,292.7 342.6,292.6 343.2,292.6 343.8,292.5 344.4,292.6 345.0,292.7 345.6,292.7 346.2,292.4 346.8,292.5 347.4,292.7 348.0,293.1 348.6,292.9 349.2,292.5 349.8,292.4 350.4,292.3 351.0,292.5 351.6,292.4 352.2,292.7 352.8,292.7 353.4,292.6 354.0,292.5 354.6,292.2 355.2,292.3 355.8,292.2 356.4,292.3 357.0,292.6 357.6,292.4 358.2,292.6 358.8,292.7 359.4,293.0 360.0,292.9 360.6,292.7 361.2,292.5 361.8,292.5 362.4,292.5 363.0,292.7 363.6,293.0 364.2,293.0 364.8,293.0 365.4,292.9 366.0,292.6 366.6,292.4 367.2,292.2 367.8,292.3 368.4,292.5 369.0,292.5 369.6,292.8 370.2,292.9 370.8,293.0 371.4,292.8 372.0,292.7 372.6,292.7 373.2,292.6 373.8,292.6 374.4,292.5 375.0,292.7 375.6,292.8 376.2,292.9 376.8,292.8 377.4,292.6 378.0,292.4 378.6,292.5 379.2,292.4 379.8,292.6 380.4,292.6 381.0,292.8 381.6,292.7 382.2,292.5 382.8,292.6 383.4,292.6 384.0,292.9 384.6,292.7 385.2,292.8 385.8,292.9 386.4,292.9 387.0,293.0 387.6,292.6 388.2,292.7 388.8,292.5 389.4,292.6 390.0,292.5 390.6,292.6 391.2,292.8 391.8,292.6 392.4,292.5 393.0,292.3 393.6,292.6 394.2,292.6 394.8,292.7 395.4,292.5 396.0,292.7 396.6,292.7 397.2,292.7 397.8,292.6 398.4,292.4 399.0,292.4 399.6,292.5 400.2,292.6 400.8,292.7 401.4,292.4 402.0,292.2 402.6,292.0 403.2,292.1 403.8,292.4 404.4,292.5 405.0,292.6 405.6,292.6 406.2,292.6 406.8,292.5 407.4,292.2 408.0,292.5 408.6,292.4 409.2,292.5 409.8,292.5 410.4,292.8 411.0,292.7 411.6,292.5 412.2,292.6 412.8,292.8 413.4,292.7 414.0,292.7 414.6,292.6 415.2,292.8 415.8,292.9 416.4,292.8 417.0,292.5 417.6,292.4 418.2,292.7 418.8,292.9 419.4,292.9 420.0,293.0 420.6,292.8 421.2,292.8 421.8,292.5 422.4,292.6 423.0,292.5 423.6,292.8 424.2,292.7 424.8,292.6 425.4,292.2 426.0,292.4 426.6,292.4 427.2,292.6 427.8,292.5 428.4,292.5 429.0,292.5 429.6,292.6 430.2,292.8 430.8,292.7 431.4,292.7 432.0,292.4 432.6,292.5 433.2,292.5 433.8,292.8 434.4,292.5 435.0,292.3 435.6,291.9 436.2,292.0 436.8,292.4 437.4,292.7 438.0,292.8 438.6,292.7 439.2,292.7 439.8,292.7 440.4,292.7 441.0,292.6 441.6,292.4 442.2,292.3 442.8,292.5 443.4,292.7 444.0,292.7 444.6,292.5 445.2,292.4 445.8,292.6 446.4,292.6 447.0,292.6 447.6,292.1 448.2,292.0 448.8,291.9 449.4,292.1 450.0,292.2 450.6,292.6 451.2,292.5 451.8,292.6 452.4,292.5 453.0,292.7 453.6,292.6 454.2,292.4 454.8,292.4 455.4,292.1 456.0,292.2 456.6,292.4 457.2,292.4 457.8,292.4 458.4,292.2 459.0,292.4 459.6,292.5 460.2,292.7 460.8,292.6 461.4,292.5 462.0,292.3 462.6,292.4 463.2,292.4 463.8,292.5 464.4,292.7 465.0,292.8 465.6,292.7 466.2,292.7 466.8,292.7 467.4,292.6 468.0,292.3 468.6,292.4 469.2,292.6 469.8,292.7 470.4,292.6 471.0,292.7 471.6,292.8 472.2,292.7 472.8,292.5 473.4,292.4 474.0,292.7 474.6,292.7 475.2,292.6 475.8,292.4 476.4,292.3 477.0,292.3 477.6,292.3 478.2,292.6 478.8,292.5 479.4,292.5 480.0,292.3 480.6,292.3 481.2,292.4 481.8,292.5 482.4,292.7 483.0,292.5 483.6,292.5 484.2,292.3 484.8,292.3 485.4,292.3 486.0,292.5 486.6,292.6 487.2,292.7 487.8,292.7 488.4,292.7 489.0,292.8 489.6,292.8 490.2,292.7 490.8,292.6 491.4,292.6 492.0,292.5 492.6,292.6 493.2,292.7 493.8,292.9 494.4,292.8 495.0,292.5 495.6,292.4 496.2,292.4 496.8,292.7 497.4,292.7 498.0,292.6 498.6,292.6 499.2,292.6 499.8,292.6 500.4,292.7 501.0,292.9 501.6,293.0"/>
<polyline points="72.6,56.0 73.2,54.0 73.8,53.5 74.4,53.9 75.0,57.4 75.6,61.3 76.2,63.9 76.8,62.5 77.4,61.4 78.0,61.0 78.6,63.1 79.2,63.7 79.8,65.7 80.4,67.2 81.0,66.5 81.6,66.5 82.2,67.6 82.8,68.5 83.4,69.0 84.0,69.1 84.6,70.3 85.2,71.5 85.8,72.1 86.4,72.8 87.0,74.0 87.6,74.8 88.2,75.4 88.8,76.0 89.4,76.7 90.0,78.1 90.6,79.1 91.2,80.0 91.8,81.0 92.4,81.7 93.0,82.6 93.6,83.5 94.2,84.4 94.8,85.5 95.4,86.5 96.0,87.4 96.6,88.2 97.2,89.3 97.8,90.3 98.4,91.3 99.0,92.4 99.6,93.5 100.2,94.6 100.8,95.8 101.4,97.0 102.0,98.2 102.6,99.6 103.2,101.0 103.8,102.5 104.4,104.1 105.0,105.8 105.6,107.5 106.2,109.1 106.8,110.8 107.4,112.5 108.0,114.1 108.6,115.7 109.2,117.3 109.8,118.9 110.4,120.5 111.0,122.2 111.6,123.8 112.2,125.5 112.8,127.3 113.4,129.1 114.0,130.8 114.6,132.6 115.2,134.5 115.8,136.3 116.4,138.2 117.0,140.0 117.6,142.0 118.2,143.9 118.8,145.9 119.4,147.9 120.0,150.0 120.6,152.1 121.2,154.3 121.8,156.5 122.4,158.9 123.0,161.3 123.6,163.8 124.2,166.4 124.8,169.1 125.4,171.7 126.0,174.4 126.6,177.0 127.2,179.6 127.8,182.2 128.4,184.7 129.0,187.1 129.6,189.5 130.2,192.0 130.8,194.4 131.4,196.8 132.0,199.3 132.6,201.8 133.2,204.4 133.8,206.9 134.4,209.4 135.0,211.8 135.6,214.1 136.2,216.5 136.8,218.8 137.4,221.0 138.0,223.0 138.6,224.7 139.2,226.3 139.8,227.7 140.4,229.1 141.0,230.4 141.6,231.6 142.2,232.7 142.8,233.8 143.4,234.9 144.0,236.0 144.6,237.0 145.2,238.1 145.8,239.2 146.4,240.4 147.0,241.5 147.6,242.7 148.2,243.8 148.8,245.0 149.4,246.1 150.0,247.2 150.6,248.3 151.2,249.4 151.8,250.6 152.4,251.7 153.0,252.7 153.6,253.8 154.2,254.9 154.8,255.9 155.4,257.0 156.0,258.0 156.6,259.1 157.2,260.3 157.8,261.4 158.4,262.4 159.0,263.4 159.6,264.1 160.2,264.9 160.8,265.6 161.4,266.4 162.0,267.0 162.6,267.7 163.2,268.1 163.8,268.6 164.4,269.0 165.0,269.5 165.6,269.9 166.2,270.2 166.8,270.8 167.4,271.2 168.0,271.7 168.6,272.1 169.2,272.5 169.8,272.9 170.4,273.4 171.0,273.9 171.6,274.4 172.2,274.8 172.8,275.0 173.4,275.5 174.0,275.8 174.6,276.2 175.2,276.4 175.8,276.8 176.4,277.0 177.0,277.1 177.6,277.4 178.2,277.6 178.8,277.8 179.4,277.7 180.0,277.7 180.6,277.7 181.2,277.8 181.8,278.2 182.4,278.4 183.0,278.3 183.6,278.2 184.2,278.3 184.8,278.4 185.4,278.7 186.0,279.0 186.6,279.6 187.2,279.6 187.8,279.5 188.4,279.2 189.0,278.7 189.6,278.8 190.2,279.0 190.8,279.5 191.4,279.7 192.0,279.9 192.6,279.9 193.2,279.9 193.8,280.1 194.4,280.0 195.0,279.9 195.6,279.6 196.2,280.0 196.8,280.2 197.4,280.5 198.0,280.2 198.6,280.1 199.2,280.1 199.8,280.3 200.4,280.3 201.0,280.4 201.6,280.4 202.2,280.5 202.8,280.5 203.4,280.6 204.0,280.5 204.6,280.5 205.2,280.6 205.8,280.6 206.4,280.8 207.0,280.6 207.6,280.5 208.2,280.6 208.8,280.6 209.4,280.8 210.0,280.8 210.6,280.8 211.2,280.6 211.8,280.5 212.4,280.6 213.0,280.6 213.6,280.8 214.2,280.8 214.8,281.0 215.4,280.9 216.0,281.0 216.6,280.9 217.2,280.9 217.8,281.0 218.4,281.1 219.0,281.1 219.6,280.9 220.2,280.9 220.8,281.0 221.4,281.1 222.0,281.0 222.6,281.0 223.2,281.4 223.8,281.4 224.4,281.4 225.0,281.1 225.6,280.9 226.2,280.9 226.8,280.7 227.4,281.2 228.0,281.2 228.6,281.1 229.2,281.0 229.8,281.0 230.4,281.0 231.0,281.1 231.6,280.9 232.2,280.9 232.8,281.0 233.4,281.4 234.0,281.5 234.6,281.5 235.2,281.4 235.8,281.4 236.4,281.6 237.0,281.5 237.6,281.4 238.2,281.3 238.8,281.2 239.4,281.2 240.0,281.2 240.6,281.1 241.2,280.8 241.8,280.7 242.4,280.6 243.0,280.8 243.6,280.9 244.2,280.9 244.8,281.0 245.4,281.1 246.0,281.3 246.6,281.4 247.2,281.5 247.8,281.4 248.4,281.3 249.0,281.2 249.6,281.3 250.2,281.3 250.8,281.2 251.4,281.1 252.0,280.9 252.6,280.9 253.2,280.9 253.8,280.9 254.4,280.8 255.0,280.9 255.6,281.1 256.2,281.2 256.8,280.9 257.4,280.9 258.0,280.8 258.6,281.0 259.2,281.0 259.8,281.2 260.4,281.2 261.0,281.2 261.6,281.1 262.2,281.2 262.8,281.2 263.4,281.3 264.0,281.3 264.6,281.3 265.2,281.2 265.8,281.2 266.4,281.3 267.0,281.4 267.6,281.4 268.2,281.4 268.8,281.3 269.4,281.4 270.0,281.3 270.6,281.0 271.2,281.1 271.8,281.1 272.4,281.2 273.0,281.0 273.6,280.9 274.2,281.3 274.8,281.3 275.4,281.3 276.0,281.1 276.6,281.0 277.2,281.4 277.8,281.2 278.4,281.0 279.0,280.8 279.6,280.9 280.2,281.1 280.8,280.8 281.4,280.9 282.0,281.1 282.6,281.2 283.2,281.3 283.8,281.0 284.4,281.5 285.0,281.4 285.6,281.4 286.2,281.3 286.8,281.3 287.4,281.3 288.0,281.2 288.6,281.1 289.2,281.0 289.8,281.1 290.4,281.1 291.0,281.3 291.6,281.1 292.2,280.9 292.8,280.9 293.4,280.8 294.0,280.9 294.6,281.0 295.2,281.2 295.8,281.2 296.4,281.3 297.0,281.2 297.6,281.2 298.2,281.1 298.8,280.9 299.4,281.2 300.0,281.2 300.6,281.3 301.2,281.1 301.8,281.0 302.4,280.9 303.0,281.2 303.6,281.1 304.2,281.1 304.8,281.2 305.4,281.3 306.0,281.3 306.6,281.3 307.2,281.2 307.8,281.2 308.4,281.1 309.0,281.1 309.6,281.0 310.2,281.0 310.8,281.3 311.4,281.5 312.0,281.5 312.6,281.5 313.2,281.3 313.8,281.4 314.4,281.3 315.0,281.3 315.6,281.6 316.2,281.5 316.8,281.3 317.4,281.2 318.0,281.1 318.6,281.2 319.2,280.7 319.8,280.9 320.4,281.0 321.0,281.5 321.6,281.5 322.2,281.6 322.8,281.5 323.4,281.5 324.0,281.2 324.6,281.2 325.2,281.2 325.8,281.3 326.4,281.2 327.0,281.1 327.6,281.0 328.2,281.1 328.8,281.1 329.4,281.1 330.0,281.0 330.6,280.8 331.2,281.1 331.8,281.1 332.4,281.2 333.0,281.1 333.6,281.3 334.2,281.2 334.8,281.1 335.4,281.0 336.0,281.2 336.6,281.2 337.2,281.1 337.8,281.1 338.4,281.3 339.0,281.5 339.6,281.3 340.2,281.2 340.8,281.2 341.4,281.3 342.0,281.1 342.6,281.1 343.2,281.0 343.8,281.0 344.4,281.1 345.0,281.1 345.6,281.2 346.2,281.2 346.8,281.0 347.4,281.1 348.0,281.1 348.6,281.3 349.2,281.4 349.8,281.2 350.4,281.0 351.0,280.9 351.6,281.1 352.2,281.5 352.8,281.5 353.4,281.4 354.0,281.2 354.6,281.1 355.2,281.0 355.8,281.2 356.4,281.3 357.0,281.6 357.6,281.4 358.2,281.5 358.8,281.5 359.4,281.6 360.0,281.2 360.6,281.0 361.2,281.1 361.8,281.4 362.4,281.6 363.0,281.4 363.6,281.3 364.2,281.2 364.8,281.3 365.4,281.4 366.0,281.5 366.6,281.4 367.2,281.4 367.8,281.4 368.4,281.5 369.0,281.2 369.6,281.2 370.2,281.4 370.8,281.4 371.4,281.4 372.0,281.2 372.6,281.4 373.2,281.5 373.8,281.2 374.4,281.1 375.0,280.9 375.6,281.0 376.2,281.0 376.8,281.1 377.4,281.3 378.0,281.6 378.6,281.7 379.2,281.7 379.8,281.3 380.4,281.1 381.0,280.9 381.6,280.9 382.2,280.9 382.8,280.9 383.4,281.0 384.0,281.0 384.6,280.9 385.2,280.8 385.8,280.9 386.4,281.1 387.0,281.4 387.6,281.4 388.2,281.4 388.8,281.3 389.4,281.1 390.0,281.4 390.6,281.4 391.2,281.6 391.8,281.2 392.4,281.1 393.0,280.9 393.6,280.9 394.2,281.0 394.8,281.2 395.4,281.2 396.0,281.3 396.6,281.1 397.2,281.2 397.8,281.0 398.4,281.1 399.0,281.1 399.6,281.0 400.2,281.4 400.8,281.2 401.4,281.6 402.0,281.2 402.6,281.4 403.2,281.0 403.8,281.0 404.4,280.9 405.0,281.1 405.6,281.1 406.2,281.3 406.8,281.1 407.4,281.3 408.0,281.2 408.6,281.3 409.2,281.1 409.8,281.2 410.4,281.2 411.0,281.4 411.6,281.1 412.2,280.8 412.8,280.7 413.4,280.9 414.0,281.1 414.6,281.1 415.2,281.0 415.8,281.2 416.4,281.3 417.0,281.3 417.6,281.2 418.2,281.3 418.8,281.4 419.4,281.2 420.0,281.0 420.6,280.8 421.2,280.8 421.8,281.0 422.4,281.2 423.0,281.3 423.6,281.3 424.2,281.3 424.8,281.1 425.4,280.9 426.0,280.8 426.6,280.8 427.2,281.0 427.8,281.0 428.4,280.9 429.0,280.9 429.6,280.9 430.2,281.1 430.8,281.1 431.4,281.2 432.0,281.2 432.6,281.1 433.2,281.1 433.8,281.3 434.4,281.3 435.0,281.5 435.6,281.4 436.2,281.7 436.8,281.4 437.4,281.5 438.0,281.3 438.6,281.4 439.2,281.2 439.8,281.2 440.4,281.2 441.0,281.3 441.6,281.3 442.2,281.2 442.8,281.1 443.4,281.1 444.0,281.3 444.6,281.5 445.2,281.3 445.8,281.3 446.4,281.3 447.0,281.6 447.6,281.3 448.2,281.3 448.8,281.0 449.4,281.0 450.0,280.9 450.6,281.1 451.2,281.2 451.8,281.2 452.4,281.2 453.0,281.3 453.6,281.5 454.2,281.3 454.8,281.2 455.4,281.2 456.0,281.2 456.6,281.2 457.2,281.1 457.8,281.4 458.4,281.3 459.0,280.9 459.6,280.6 460.2,280.6 460.8,280.9 461.4,281.1 462.0,281.2 462.6,281.2 463.2,281.1 463.8,281.0 464.4,281.1 465.0,281.0 465.6,281.4 466.2,281.5 466.8,281.5 467.4,281.1 468.0,280.9 468.6,280.8 469.2,280.9 469.8,280.8 470.4,281.1 471.0,281.2 471.6,281.2 472.2,280.9 472.8,280.8 473.4,280.9 474.0,281.0 474.6,281.3 475.2,281.2 475.8,281.4 476.4,281.3 477.0,281.4 477.6,281.0 478.2,280.8 478.8,280.9 479.4,281.3 480.0,281.5 480.6,281.5 481.2,281.3 481.8,281.2 482.4,281.0 483.0,281.2 483.6,281.3 484.2,281.3 484.8,281.2 485.4,281.2 486.0,281.3 486.6,281.2 487.2,281.3 487.8,281.3 488.4,281.4 489.0,281.4 489.6,281.5 490.2,281.5 490.8,281.4 491.4,281.1 492.0,281.1 492.6,280.7 493.2,281.0 493.8,280.9 494.4,281.2 495.0,281.0 495.6,281.1 496.2,281.0 496.8,281.1 497.4,281.3 498.0,281.5 498.6,281.5 499.2,281.5 499.8,281.3 500.4,281.3 501.0,281.2 501.6,281.2"/>
</g>
<g fill="none" stroke="#000" stroke-width="1.45">
<circle cx="95.6" cy="78.7" r="5.15"/>
<circle cx="141.7" cy="124.8" r="5.15"/>
<circle cx="187.8" cy="172.2" r="5.15"/>
<circle cx="234.0" cy="215.4" r="5.15"/>
<circle cx="280.1" cy="244.5" r="5.15"/>
<circle cx="326.2" cy="255.7" r="5.15"/>
<circle cx="372.3" cy="257.4" r="5.15"/>
<circle cx="418.4" cy="257.8" r="5.15"/>
<circle cx="464.6" cy="257.6" r="5.15"/>
<path d="M100.6 90.3H110.6M105.6 85.3V95.3M102.1 86.8L109.1 93.9M102.1 93.9L109.1 86.8"/>
<path d="M145.6 172.2H155.6M150.6 167.2V177.2M147.1 168.7L154.1 175.8M147.1 175.8L154.1 168.7"/>
<path d="M191.5 306.1H201.5M196.5 301.1V311.1M193.0 302.6L200.0 309.7M193.0 309.7L200.0 302.6"/>
<path d="M237.8 318.9H247.8M242.8 313.9V323.9M239.3 315.3L246.3 322.4M239.3 322.4L246.3 315.3"/>
<path d="M284.0 319.8H294.0M289.0 314.8V324.8M285.5 316.2L292.5 323.3M285.5 323.3L292.5 316.2"/>
<path d="M330.1 319.7H340.1M335.1 314.7V324.7M331.6 316.2L338.6 323.2M331.6 323.2L338.6 316.2"/>
<path d="M376.2 319.9H386.2M381.2 314.9V324.9M377.7 316.4L384.7 323.5M377.7 323.5L384.7 316.4"/>
<path d="M422.3 320.1H432.3M427.3 315.1V325.1M423.8 316.5L430.8 323.6M423.8 323.6L430.8 316.5"/>
<path d="M468.4 319.7H478.4M473.4 314.7V324.7M469.9 316.2L476.9 323.3M469.9 323.3L476.9 316.2"/>
<path d="M113.4 103.3L118.3 110.6L113.4 117.9L108.5 110.6Z"/>
<path d="M159.6 244.7L164.5 252.0L159.6 259.3L154.7 252.0Z"/>
<path d="M205.8 296.8L210.7 304.1L205.8 311.4L200.9 304.1Z"/>
<path d="M251.9 297.9L256.8 305.2L251.9 312.5L247.0 305.2Z"/>
<path d="M298.1 297.9L303.0 305.2L298.1 312.5L293.2 305.2Z"/>
<path d="M344.3 297.9L349.2 305.2L344.3 312.5L339.4 305.2Z"/>
<path d="M390.5 297.8L395.4 305.1L390.5 312.4L385.6 305.1Z"/>
<path d="M436.7 297.9L441.6 305.2L436.7 312.5L431.8 305.2Z"/>
<path d="M482.8 298.1L487.7 305.4L482.8 312.7L477.9 305.4Z"/>
<rect x="118.8" y="139.3" width="8.6" height="8.6"/>
<rect x="164.9" y="273.9" width="8.6" height="8.6"/>
<rect x="211.0" y="287.9" width="8.6" height="8.6"/>
<rect x="257.1" y="288.3" width="8.6" height="8.6"/>
<rect x="303.2" y="288.1" width="8.6" height="8.6"/>
<rect x="349.3" y="288.2" width="8.6" height="8.6"/>
<rect x="395.4" y="288.3" width="8.6" height="8.6"/>
<rect x="441.5" y="288.3" width="8.6" height="8.6"/>
<rect x="487.6" y="288.2" width="8.6" height="8.6"/>
<path d="M126.9 199.7H137.3M132.1 194.5V204.9"/>
<path d="M173.1 277.6H183.5M178.3 272.4V282.8"/>
<path d="M219.3 281.3H229.7M224.5 276.1V286.5"/>
<path d="M265.5 281.0H275.9M270.7 275.8V286.2"/>
<path d="M311.7 281.3H322.1M316.9 276.1V286.5"/>
<path d="M357.9 281.4H368.3M363.1 276.2V286.6"/>
<path d="M404.1 281.1H414.5M409.3 275.9V286.3"/>
<path d="M450.3 281.2H460.7M455.5 276.0V286.4"/>
</g>
<g stroke="#000" stroke-width="1.4" fill="none">
<path d="M72.0 94.5h2.4M502.0 94.5h-2.4M72.0 85.0h2.4M502.0 85.0h-2.4M72.0 78.3h2.4M502.0 78.3h-2.4M72.0 73.1h2.4M502.0 73.1h-2.4M72.0 68.8h2.4M502.0 68.8h-2.4M72.0 65.2h2.4M502.0 65.2h-2.4M72.0 62.1h2.4M502.0 62.1h-2.4M72.0 59.4h2.4M502.0 59.4h-2.4M72.0 148.3h2.4M502.0 148.3h-2.4M72.0 138.8h2.4M502.0 138.8h-2.4M72.0 132.1h2.4M502.0 132.1h-2.4M72.0 126.9h2.4M502.0 126.9h-2.4M72.0 122.6h2.4M502.0 122.6h-2.4M72.0 119.0h2.4M502.0 119.0h-2.4M72.0 115.9h2.4M502.0 115.9h-2.4M72.0 113.2h2.4M502.0 113.2h-2.4M72.0 202.1h2.4M502.0 202.1h-2.4M72.0 192.7h2.4M502.0 192.7h-2.4M72.0 185.9h2.4M502.0 185.9h-2.4M72.0 180.7h2.4M502.0 180.7h-2.4M72.0 176.5h2.4M502.0 176.5h-2.4M72.0 172.9h2.4M502.0 172.9h-2.4M72.0 169.7h2.4M502.0 169.7h-2.4M72.0 167.0h2.4M502.0 167.0h-2.4M72.0 255.9h2.4M502.0 255.9h-2.4M72.0 246.5h2.4M502.0 246.5h-2.4M72.0 239.7h2.4M502.0 239.7h-2.4M72.0 234.5h2.4M502.0 234.5h-2.4M72.0 230.3h2.4M502.0 230.3h-2.4M72.0 226.7h2.4M502.0 226.7h-2.4M72.0 223.5h2.4M502.0 223.5h-2.4M72.0 220.8h2.4M502.0 220.8h-2.4M72.0 309.8h2.4M502.0 309.8h-2.4M72.0 300.3h2.4M502.0 300.3h-2.4M72.0 293.6h2.4M502.0 293.6h-2.4M72.0 288.3h2.4M502.0 288.3h-2.4M72.0 284.1h2.4M502.0 284.1h-2.4M72.0 280.5h2.4M502.0 280.5h-2.4M72.0 277.4h2.4M502.0 277.4h-2.4M72.0 274.6h2.4M502.0 274.6h-2.4M72.0 363.6h2.4M502.0 363.6h-2.4M72.0 354.1h2.4M502.0 354.1h-2.4M72.0 347.4h2.4M502.0 347.4h-2.4M72.0 342.1h2.4M502.0 342.1h-2.4M72.0 337.9h2.4M502.0 337.9h-2.4M72.0 334.3h2.4M502.0 334.3h-2.4M72.0 331.2h2.4M502.0 331.2h-2.4M72.0 328.4h2.4M502.0 328.4h-2.4"/>
<path stroke-width="1.7" d="M72.0 56.9h4.6M502.0 56.9h-4.6M72.0 110.7h4.6M502.0 110.7h-4.6M72.0 164.5h4.6M502.0 164.5h-4.6M72.0 218.3h4.6M502.0 218.3h-4.6M72.0 272.1h4.6M502.0 272.1h-4.6M72.0 325.9h4.6M502.0 325.9h-4.6M253.1 370.0v-4.6M253.1 30.9v4.6M434.2 370.0v-4.6M434.2 30.9v4.6"/>
</g>
<rect x="72.0" y="30.9" width="430.0" height="339.1" fill="none" stroke="#000" stroke-width="2.2"/>
<text x="44.1" y="61.65" font-size="13.0">10<tspan dx="0.2" dy="-7.6" font-size="9.0" letter-spacing="-0.5">0</tspan></text>
<text x="44.1" y="115.46" font-size="13.0">10<tspan dx="0.2" dy="-7.6" font-size="9.0" letter-spacing="-0.5">−1</tspan></text>
<text x="44.1" y="169.27" font-size="13.0">10<tspan dx="0.2" dy="-7.6" font-size="9.0" letter-spacing="-0.5">−2</tspan></text>
<text x="44.1" y="223.08" font-size="13.0">10<tspan dx="0.2" dy="-7.6" font-size="9.0" letter-spacing="-0.5">−3</tspan></text>
<text x="44.1" y="276.89" font-size="13.0">10<tspan dx="0.2" dy="-7.6" font-size="9.0" letter-spacing="-0.5">−4</tspan></text>
<text x="44.1" y="330.70" font-size="13.0">10<tspan dx="0.2" dy="-7.6" font-size="9.0" letter-spacing="-0.5">−5</tspan></text>
<text x="72.2" y="386" font-size="13.0" text-anchor="middle">0</text>
<text x="253.3" y="386" font-size="13.0" text-anchor="middle">1000</text>
<text x="434.4" y="386" font-size="13.0" text-anchor="middle">2000</text>
<text x="287.4" y="407.6" font-size="20.8" text-anchor="middle">Iterations</text>
<text transform="translate(32.0,200.4) rotate(-90)" font-size="20.2" text-anchor="middle">MSD</text>
<rect x="333.3" y="37.7" width="162.09999999999997" height="125.3" fill="#fff" stroke="#000" stroke-width="2.1"/>
<g fill="none" stroke="#000" stroke-width="1.45">
<path d="M341.2 48.8H382.0"/>
<circle cx="361.4" cy="48.8" r="5.15"/>
<path d="M341.2 70.1H382.0"/>
<path d="M356.4 70.1H366.4M361.4 65.1V75.1M357.9 66.6L364.9 73.6M357.9 73.6L364.9 66.6"/>
<path d="M341.2 96.2H382.0"/>
<path d="M361.4 88.9L366.3 96.2L361.4 103.5L356.5 96.2Z"/>
<path d="M341.2 122.1H382.0"/>
<rect x="357.1" y="117.8" width="8.6" height="8.6"/>
<path d="M341.2 147.9H382.0"/>
<path d="M356.2 147.9H366.6M361.4 142.7V153.1"/>
</g>
<text x="386.6" y="53.1" font-size="13.0">LMS</text>
<text y="74.6" font-size="13.0"><tspan x="386.4" font-style="italic">l</tspan><tspan x="389.5" dy="6" font-size="10.6">0</tspan><tspan x="394.9" dy="-6" font-size="13.0" letter-spacing="0.2">−LMS,</tspan><tspan x="433.2" font-size="13.6">κ</tspan><tspan x="440.0">=</tspan><tspan x="447.8">10</tspan><tspan x="461.3" dy="-5.7" font-size="10.8">−5</tspan></text>
<text y="100.7" font-size="13.0"><tspan x="386.4" font-style="italic">l</tspan><tspan x="389.5" dy="6" font-size="10.6">0</tspan><tspan x="394.9" dy="-6" font-size="13.0" letter-spacing="0.2">−LMS,</tspan><tspan x="433.2" font-size="13.6">κ</tspan><tspan x="440.0">=</tspan><tspan x="447.6">2</tspan><tspan x="453.6" dy="0.1" font-size="13.4" fill="#2a2a2a" stroke="none" font-family="DejaVu Sans, sans-serif">× </tspan><tspan x="467.0" dy="-0.1" font-size="13.0" fill="#000" stroke="#000">10</tspan><tspan x="480.3" dy="-5.7" font-size="10.8">−5</tspan></text>
<text y="126.6" font-size="13.0"><tspan x="386.4" font-style="italic">l</tspan><tspan x="389.5" dy="6" font-size="10.6">0</tspan><tspan x="394.9" dy="-6" font-size="13.0" letter-spacing="0.2">−LMS,</tspan><tspan x="433.2" font-size="13.6">κ</tspan><tspan x="440.0">=</tspan><tspan x="447.6">3</tspan><tspan x="453.6" dy="0.1" font-size="13.4" fill="#2a2a2a" stroke="none" font-family="DejaVu Sans, sans-serif">× </tspan><tspan x="467.0" dy="-0.1" font-size="13.0" fill="#000" stroke="#000">10</tspan><tspan x="480.3" dy="-5.7" font-size="10.8">−5</tspan></text>
<text y="152.4" font-size="13.0"><tspan x="386.4" font-style="italic">l</tspan><tspan x="389.5" dy="6" font-size="10.6">0</tspan><tspan x="394.9" dy="-6" font-size="13.0" letter-spacing="0.2">−LMS,</tspan><tspan x="433.2" font-size="13.6">κ</tspan><tspan x="440.0">=</tspan><tspan x="447.6">4</tspan><tspan x="453.6" dy="0.1" font-size="13.4" fill="#2a2a2a" stroke="none" font-family="DejaVu Sans, sans-serif">× </tspan><tspan x="467.0" dy="-0.1" font-size="13.0" fill="#000" stroke="#000">10</tspan><tspan x="480.3" dy="-5.7" font-size="10.8">−5</tspan></text>
</svg></body></html>
